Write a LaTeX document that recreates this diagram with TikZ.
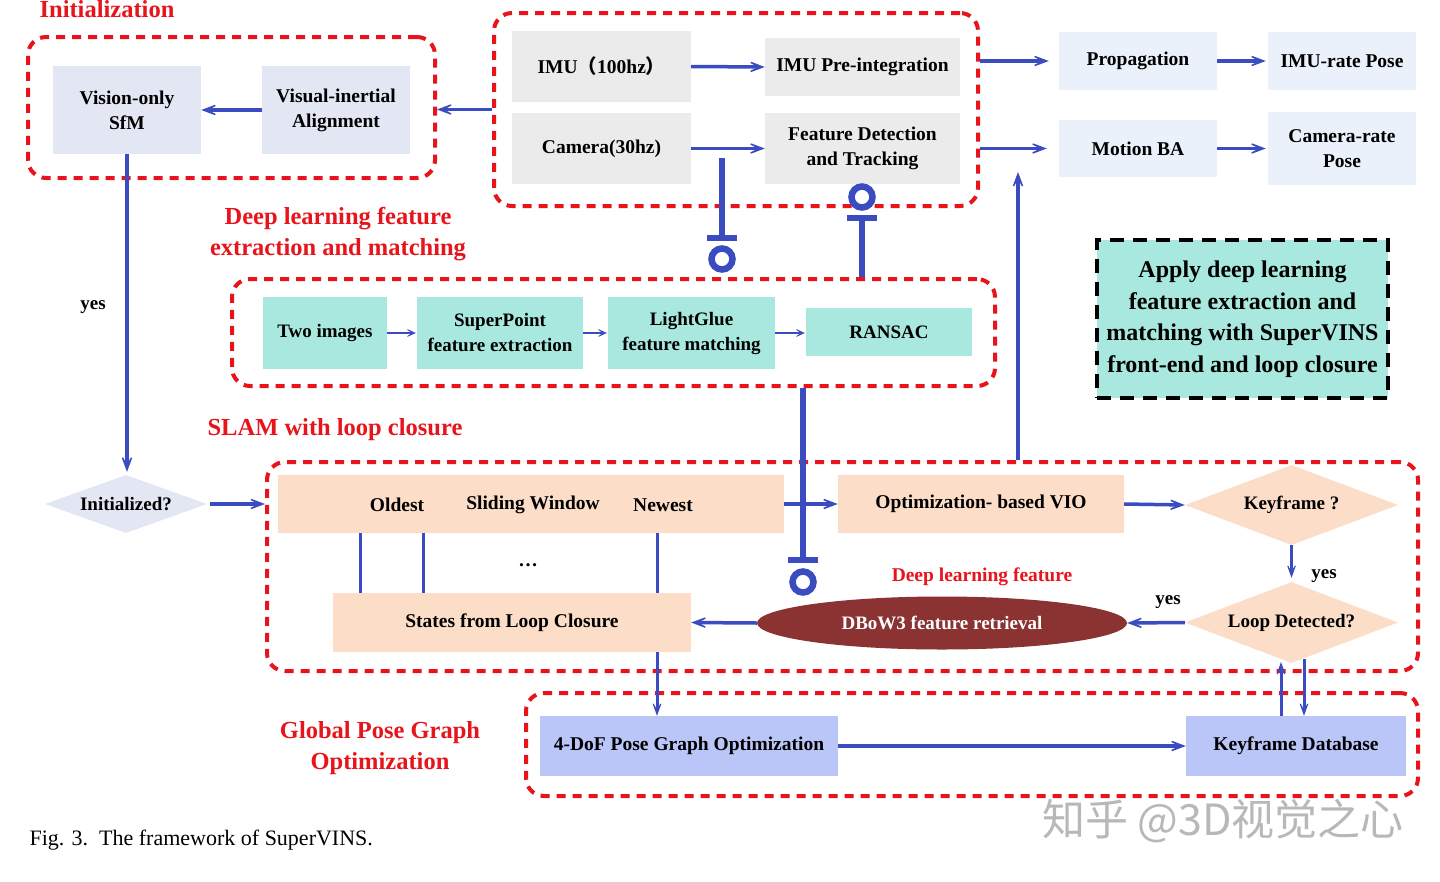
\documentclass[tikz,border=0pt]{standalone}
\usepackage{fontspec}
\setmainfont{Liberation Serif}
\newfontfamily\cjk{Noto Sans CJK SC}
\usetikzlibrary{arrows.meta,shapes.geometric,calc}
\definecolor{myblue}{RGB}{58,76,192}
\definecolor{myred}{RGB}{232,20,28}
\definecolor{boxgray}{RGB}{235,235,235}
\definecolor{lav}{RGB}{227,230,243}
\definecolor{lblue}{RGB}{234,241,251}
\definecolor{teal1}{RGB}{168,232,222}
\definecolor{peach}{RGB}{251,221,200}
\definecolor{peri}{RGB}{186,197,248}
\definecolor{dred}{RGB}{139,50,50}
\begin{document}
\begin{tikzpicture}[x=1pt,y=-1pt,
  box/.style={inner sep=0pt, align=center, font=\bfseries\fontsize{19.5}{25}\selectfont},
  grayb/.style={box, fill=boxgray},
  lavb/.style={box, fill=lav},
  blueb/.style={box, fill=lblue},
  tealb/.style={box, fill=teal1, font=\bfseries\fontsize{19}{25}\selectfont},
  peachb/.style={box, fill=peach},
  perib/.style={box, fill=peri},
  dia/.style={diamond, shape aspect=2.8, inner sep=0pt, align=center, font=\bfseries\fontsize{19}{22}\selectfont},
  redbox/.style={draw=myred, line width=4pt, dash pattern=on 9pt off 7pt, rounded corners=18pt, inner sep=0pt},
  redlbl/.style={text=myred, font=\bfseries\fontsize{24.5}{31}\selectfont, align=center},
  arr/.style={draw=myblue, line width=3.5pt, -{Stealth[length=24pt,width=18pt,inset=17pt,line width=1.4pt]}},
  sarr/.style={draw=myblue, line width=3pt, -{Stealth[length=18pt,width=13pt,inset=12pt,line width=1pt]}},
  thinarr/.style={draw=myblue, line width=1.6pt, -{Stealth[length=11pt,width=10pt,inset=7pt,line width=0.6pt]}},
  conn/.style={draw=myblue, line width=6.5pt},
  bar/.style={draw=myblue, line width=3pt},
  lbl/.style={font=\bfseries\fontsize{19}{22}\selectfont}
]
\useasboundingbox (0,0) rectangle (1440,881);
\fill[white] (0,0) rectangle (1440,881);

% containers
\node[redbox, minimum width=407pt, minimum height=141pt] (initbox) at (231.5,107.5) {};
\node[redbox, minimum width=484pt, minimum height=193pt] (topbox) at (736,109.5) {};
\node[redbox, minimum width=763pt, minimum height=107pt] (dlbox) at (613.5,332.5) {};
\node[redbox, minimum width=1151pt, minimum height=209pt] (slambox) at (842.5,566.5) {};
\node[redbox, minimum width=892pt, minimum height=103pt] (gbox) at (972,744.5) {};

% titles
\node[redlbl] (tinit) at (107,9) {Initialization};
\node[redlbl] (tdl) at (338,234) {Deep learning feature\\extraction and matching};
\node[redlbl] (tslam) at (335,430) {SLAM with loop closure};
\node[redlbl] (tg) at (380,748) {Global Pose Graph\\Optimization};

% initialization
\node[lavb, minimum width=148pt, minimum height=88pt] (vos) at (127,110) {Vision-only\\SfM};
\node[lavb, minimum width=148pt, minimum height=88pt] (via) at (336,110) {Visual-inertial\\Alignment};

% front end
\node[grayb, minimum width=179pt, minimum height=71pt] (imu) at (601.5,66.5) {IMU{\cjk （}100hz{\cjk ）}};
\node[grayb, minimum width=195pt, minimum height=58pt] (pre) at (862.5,67) {IMU Pre-integration};
\node[grayb, minimum width=179pt, minimum height=71pt] (cam) at (601.5,148.5) {Camera(30hz)};
\node[grayb, minimum width=195pt, minimum height=71pt] (fdt) at (862.5,148.5) {Feature Detection\\and Tracking};

% outputs
\node[blueb, minimum width=158pt, minimum height=58pt] (prop) at (1138,61) {Propagation};
\node[blueb, minimum width=148pt, minimum height=58pt] (imurate) at (1342,61) {IMU-rate Pose};
\node[blueb, minimum width=158pt, minimum height=57pt] (mba) at (1138,148.5) {Motion BA};
\node[blueb, minimum width=148pt, minimum height=73pt] (camrate) at (1342,148.5) {Camera-rate\\Pose};

% deep learning
\node[tealb, minimum width=124pt, minimum height=72pt] (two) at (325,333) {Two images};
\node[tealb, minimum width=166pt, minimum height=72pt] (sp) at (500,333) {SuperPoint\\feature extraction};
\node[tealb, minimum width=167pt, minimum height=72pt] (lg) at (691.5,333) {LightGlue\\feature matching};
\node[tealb, minimum width=166pt, minimum height=48pt] (ransac) at (889,332) {RANSAC};

% apply note
\node[box, fill=teal1, draw=black, line width=3.5pt, dash pattern=on 14pt off 9pt,
      minimum width=291pt, minimum height=158pt, font=\bfseries\fontsize{24}{31.5}\selectfont] (apply) at (1242.5,319)
  {Apply deep learning\\feature extraction and\\matching with SuperVINS\\front-end and loop closure};

% SLAM
\node[dia, fill=lav, minimum width=162pt, minimum height=58pt] (init) at (126,504) {Initialized?};
\node[peachb, minimum width=506pt, minimum height=58pt] (sw) at (531,504) {};
\node[box] (oldest) at (397,505) {Oldest};
\node[box] (swt) at (533,505) {Sliding Window};
\node[box] (newest) at (663,505) {Newest};
\node[peachb, minimum width=358pt, minimum height=59pt] (slc) at (512,622.5) {States from Loop Closure};
\node[box] (dots) at (528,565) {\dots};
\node[peachb, minimum width=286pt, minimum height=58pt] (vio) at (981,504) {Optimization- based VIO};
\node[dia, fill=peach, minimum width=213pt, minimum height=80pt] (kf) at (1291.5,505) {Keyframe ?};
\node[dia, fill=peach, minimum width=213pt, minimum height=81pt] (ld) at (1291.5,622.5) {Loop Detected?};
\node[ellipse, fill=dred, inner sep=0pt, minimum width=370pt, minimum height=53pt, text=white,
      font=\bfseries\fontsize{19}{22}\selectfont] (dbow) at (942,623) {DBoW3 feature retrieval};
\node[text=myred, font=\bfseries\fontsize{19.5}{22}\selectfont] (tdlf) at (982,577) {Deep learning feature};

% global
\node[perib, minimum width=298pt, minimum height=60pt] (dof) at (689,746) {4-DoF Pose Graph Optimization};
\node[perib, minimum width=220pt, minimum height=60pt] (kd) at (1296,746) {Keyframe Database};

% labels
\node[lbl] (yes1) at (93,307) {yes};
\node[lbl] (yes2) at (1324,576) {yes};
\node[lbl] (yes3) at (1168,602) {yes};

% caption & watermark
\node[anchor=west, font=\fontsize{22}{26}\selectfont] (cap) at (26,840) {Fig. 3.\ \ The framework of SuperVINS.};
\node[text=black!28, font=\cjk\fontsize{43}{46}\selectfont] (wm) at (1223,821) {知乎 @3D视觉之心};

% coordinates
\coordinate (up) at (1018,172);
\coordinate (x657) at (657,0);
\coordinate (x1281) at (1281,0);
\coordinate (x1304) at (1304,0);

% arrows
\draw[arr] (via.west) -- (vos.east);
\draw[arr] (topbox.west) -- (initbox.east |- topbox.west);
\draw[arr] (imu.east) -- (pre.west);
\draw[arr] (cam.east) -- (fdt.west);
\draw[arr, shorten >=10pt] (topbox.east |- prop.west) -- (prop.west);
\draw[arr, shorten >=12pt] (topbox.east |- mba.west) -- (mba.west);
\draw[arr, shorten >=2pt] (prop.east) -- (imurate.west);
\draw[arr, shorten >=2pt] (mba.east) -- (camrate.west);
\draw[arr] (slambox.north -| up) -- (up);
\draw[arr, shorten >=3pt] (vos.south) -- (vos.south |- init.north);
\draw[arr, shorten <=3pt] (init.east) -- (slambox.west |- init.east);
\draw[thinarr, shorten >=1pt] (two.east) -- (sp.west);
\draw[thinarr, shorten >=1pt] (sp.east) -- (lg.west);
\draw[thinarr, shorten >=1pt] (lg.east) -- (lg.east -| ransac.west);
\draw[arr] (sw.east) -- (vio.west);
\draw[arr] (vio.east) -- (kf.west);
\draw[sarr, shorten >=4pt] (kf.south) -- (ld.north);
\draw[arr] (ld.west) -- (dbow.east);
\draw[arr] (dbow.west) -- (slc.east);
\draw[sarr] (slc.south -| x657) -- (dof.north -| x657);
\draw[arr] (dof.east) -- (kd.west);
\draw[sarr] (kd.north -| x1281) -- (1281,662);
\draw[sarr] (1304,659) -- (kd.north -| x1304);

% bars between sliding window and states
\draw[bar] (360,533) -- (360,593);
\draw[bar] (423,533) -- (423,593);
\draw[bar] (657,533) -- (657,593);

% hanging circle connectors
\draw[conn] (722,158) -- (722,238);
\draw[conn] (707,238) -- (737,238);
\draw[conn] (722,259) circle (10.5pt);

\draw[conn] (862,218) -- (dlbox.north -| 862,0);
\draw[conn] (847,218) -- (877,218);
\draw[conn] (862,197) circle (10.5pt);

\draw[conn] (dlbox.south -| 803,0) -- (803,560);
\draw[conn] (788,560) -- (818,560);
\draw[conn] (803,582) circle (10.5pt);
\end{tikzpicture}
\end{document}
